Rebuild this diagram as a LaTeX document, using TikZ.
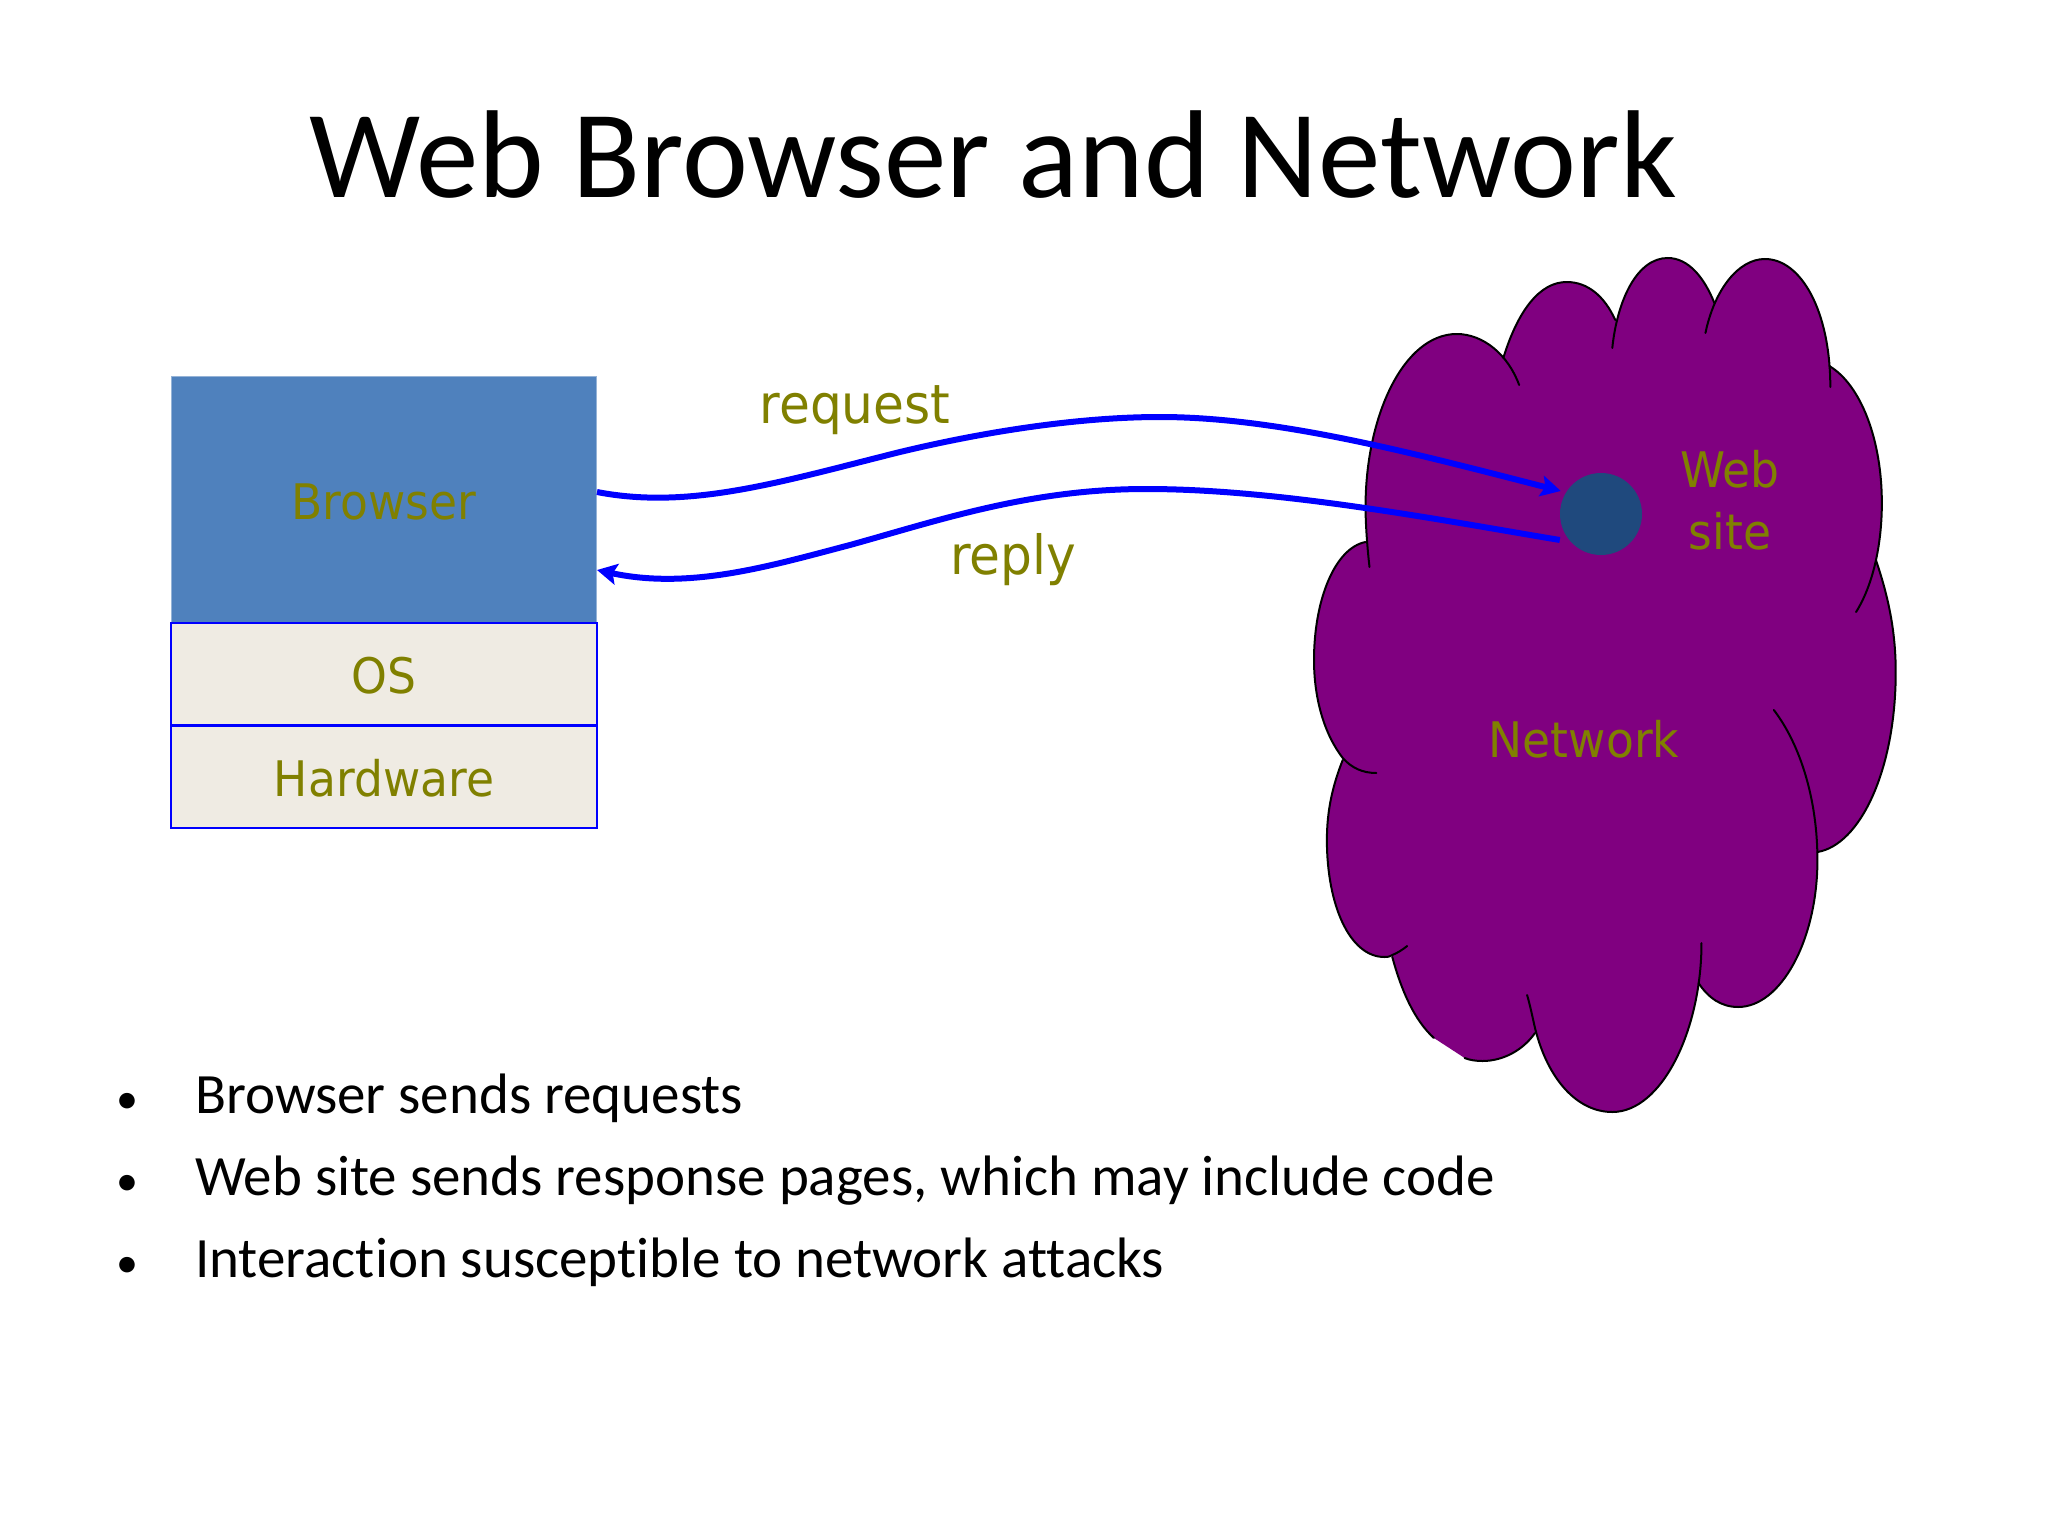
\documentclass[tikz,border=0pt]{standalone}
\usepackage{fontspec}
\setmainfont[Ligatures=NoCommon]{Carlito}
\newfontfamily\tahomalike[FakeStretch=0.93]{DejaVu Sans}
\usetikzlibrary{arrows.meta}
\definecolor{cloudpurple}{HTML}{800080}
\definecolor{labelolive}{HTML}{808000}
\definecolor{browserblue}{HTML}{4F81BD}
\definecolor{layerfill}{HTML}{EFEBE3}
\definecolor{dotblue}{HTML}{1F497D}
\tikzset{
  labeltext/.style={anchor=base,inner sep=0pt,text=labelolive,font=\tahomalike\fontsize{49}{56}\selectfont},
  flowtext/.style={anchor=base,inner sep=0pt,text=labelolive,font=\tahomalike\fontsize{54}{60}\selectfont},
  layerbox/.style={draw=blue,line width=2pt,fill=layerfill,inner sep=0pt,minimum width=426pt,anchor=north west},
  bullettext/.style={anchor=base west,inner sep=0pt,font=\fontsize{57}{64}\selectfont},
  bulletdot/.style={anchor=base,inner sep=0pt,font=\fontsize{44}{50}\selectfont},
  flow/.style={draw=blue,line width=6pt,-{Stealth[length=20pt,width=21pt,inset=4pt]}},
  cloudedge/.style={draw=black,line width=2pt,line cap=round}
}
\def\lobeA{(1370,567) .. controls (1368,550) and (1366,525) .. (1366,507) .. controls (1366,415) and (1405,334) .. (1458,334) .. controls (1485,334) and (1510,355) .. (1521,385)}
\def\lobeB{(1505,358) .. controls (1520,310) and (1542,282) .. (1569,282) .. controls (1590,282) and (1607,296) .. (1618,320)}
\def\lobeC{(1615,348) .. controls (1620,300) and (1640,258) .. (1671,258) .. controls (1692,258) and (1708,278) .. (1718,303)}
\def\lobeD{(1709,333) .. controls (1718,290) and (1742,259) .. (1769,259) .. controls (1805,259) and (1835,310) .. (1835,387)}
\def\lobeE{(1834,366) .. controls (1866,385) and (1887,440) .. (1887,503) .. controls (1887,545) and (1878,585) .. (1861,612)}
\def\lobeF{(1881,560) .. controls (1893,595) and (1901,630) .. (1901,672) .. controls (1901,770) and (1865,845) .. (1822,852)}
\def\lobeG{(1778,710) .. controls (1805,745) and (1822,800) .. (1822,860) .. controls (1822,940) and (1785,1007) .. (1742,1007) .. controls (1725,1007) and (1712,998) .. (1702,983)}
\def\lobeH{(1705,943) .. controls (1705,1030) and (1665,1112) .. (1615,1112) .. controls (1580,1112) and (1550,1080) .. (1537,1028) .. controls (1534,1015) and (1532,1005) .. (1529,995)}
\def\lobeIa{(1537,1033) .. controls (1525,1050) and (1505,1061) .. (1484,1061) .. controls (1477,1061) and (1471,1060) .. (1466,1058)}
\def\lobeIb{(1435,1038) .. controls (1415,1020) and (1402,990) .. (1393,957)}
\def\lobeJ{(1408,946) .. controls (1403,950) and (1398,953) .. (1393,955) .. controls (1390,957) and (1387,957) .. (1385,957) .. controls (1350,957) and (1327,905) .. (1327,840) .. controls (1327,810) and (1333,785) .. (1343,760)}
\def\lobeK{(1377,773) .. controls (1363,773) and (1352,768) .. (1343,758) .. controls (1325,735) and (1314,700) .. (1314,660) .. controls (1314,600) and (1335,548) .. (1366,542)}
\begin{document}
\begin{tikzpicture}[x=1pt,y=-1pt]
\useasboundingbox (0,0) rectangle (2048,1536);
\fill[white] (0,0) rectangle (2048,1536);
% title
\node[anchor=base,inner sep=0pt,font=\fontsize{125}{140}\selectfont] (title) at (993,197) {Web Browser and Network};
% cloud
\begin{scope}[xshift=1314pt,xscale=.991,xshift=-1314pt]
\fill[cloudpurple] (1366,542) -- (1458,400) -- (1505,358) -- (1618,320) -- (1718,303) -- (1834,366) -- (1881,560) -- (1822,852) -- (1702,983) -- (1537,1033) -- (1466,1058) -- (1435,1038) -- (1393,957) -- (1343,760) -- cycle;
\foreach \lobe in {\lobeA,\lobeB,\lobeC,\lobeD,\lobeE,\lobeF,\lobeG,\lobeH,\lobeIa,\lobeIb,\lobeJ,\lobeK}{
  \fill[cloudpurple] \lobe -- (1600,650) -- cycle;
}
\foreach \lobe in {\lobeA,\lobeB,\lobeC,\lobeD,\lobeE,\lobeF,\lobeG,\lobeH,\lobeIa,\lobeIb,\lobeJ,\lobeK}{
  \draw[cloudedge] \lobe;
}
\end{scope}
\node[labeltext] (websiteA) at (1730,487) {Web};
\node[labeltext] (websiteB) at (1730,549) {site};
\node[labeltext] (network) at (1584,757) {Network};
\node[circle,fill=dotblue,minimum size=82pt,inner sep=0pt] (site) at (1601,514) {};
% stack
\node[anchor=north west,fill=browserblue,draw=browserblue!60,line width=1pt,inner sep=0pt,minimum width=425pt,minimum height=246pt] (browser) at (171,376) {};
\node[layerbox,minimum height=102pt] (os) at (170,622) {};
\node[layerbox,minimum height=102pt] (hardware) at (170,725) {};
\node[labeltext] (browsertext) at (384,519) {Browser};
\node[labeltext] (ostext) at (384,693) {OS};
\node[labeltext] (hardwaretext) at (384,796) {Hardware};
% flows
\coordinate (reqout) at (browser.east |- 0,492);
\coordinate (repin) at (browser.east |- 0,570);
\coordinate (reqin) at ([shift={(1,-23)}]site.west);
\coordinate (repout) at ([shift={(0,26)}]site.west);
\draw[flow] (reqout) .. controls (690,510) and (780,482) .. (900,452) .. controls (1000,428) and (1090,417) .. (1160,417) .. controls (1280,417) and (1420,455) .. (reqin);
\draw[flow] (repout) .. controls (1440,520) and (1280,489) .. (1146,489) .. controls (1030,489) and (940,520) .. (850,545) .. controls (770,566) and (690,590) .. (repin);
\node[flowtext] (request) at (855,423) {request};
\node[flowtext] (reply) at (1013,574) {reply};
% bullets
\node[bullettext] (b1) at (195,1113) {Browser sends requests};
\node[bullettext] (b2) at (195,1195) {Web site sends response pages, which may include code};
\node[bullettext] (b3) at (195,1277) {Interaction susceptible to network attacks};
\node[bulletdot] (d1) at (127,1113) {•};
\node[bulletdot] (d2) at (127,1195) {•};
\node[bulletdot] (d3) at (127,1277) {•};
\end{tikzpicture}
\end{document}
